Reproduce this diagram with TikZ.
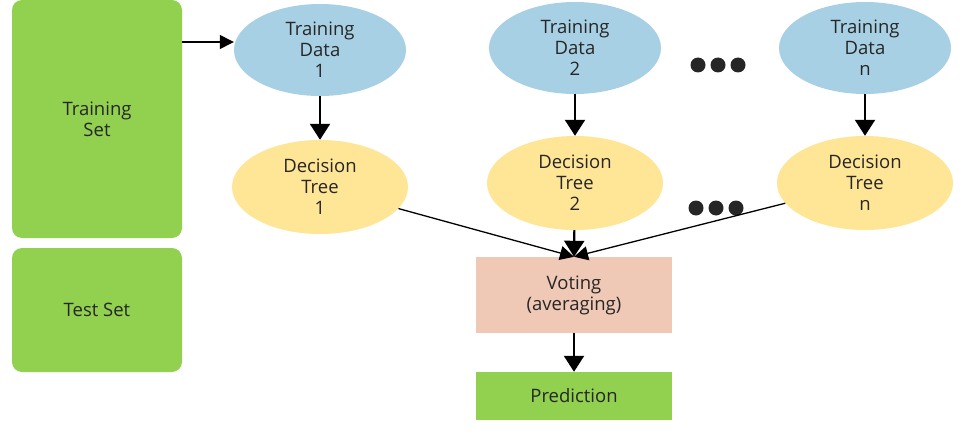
\documentclass[tikz,border=0pt]{standalone}
\usepackage{fontspec}
\setmainfont{Open Sans}
\usetikzlibrary{shapes.geometric,arrows.meta}
\begin{document}
\begin{tikzpicture}[x=1pt,y=-1pt,
  every node/.style={font=\fontsize{18.5}{21}\selectfont,align=center,text=black!85},
  gbox/.style={fill={rgb,255:red,146;green,208;blue,80},draw=none},
  td/.style={ellipse,fill={rgb,255:red,168;green,208;blue,228},minimum width=172,minimum height=92,inner sep=0},
  dt/.style={ellipse,fill={rgb,255:red,255;green,229;blue,150},minimum width=176,minimum height=94,inner sep=0},
  arr/.style={-{Triangle[length=16pt,width=20pt]},line width=2.2pt,black},
  thin/.style={-{Triangle[length=14pt,width=14pt]},line width=1.3pt,black}]
\useasboundingbox (0,0) rectangle (977,436);
\node[gbox,rounded corners=10pt,minimum width=170,minimum height=238] (ts) at (97,119) {Training\\Set};
\node[gbox,rounded corners=10pt,minimum width=170,minimum height=124] (te) at (97,310) {Test Set};
\node[td] (t1) at (320,50) {Training\\Data\\1};
\node[td] (t2) at (575,48) {Training\\Data\\2};
\node[td] (tn) at (865,48) {Training\\Data\\n};
\node[dt] (d1) at (320,187) {Decision\\Tree\\1};
\node[dt] (d2) at (575,183) {Decision\\Tree\\2};
\node[dt] (dn) at (865,183) {Decision\\Tree\\n};
\node[fill={rgb,255:red,240;green,200;blue,182},minimum width=196,minimum height=76] (v) at (574,295) {Voting\\(averaging)};
\node[gbox,minimum width=196,minimum height=48] (p) at (574,396) {Prediction};
\node (dots1) at (718,65) {\tikz[x=1pt,y=1pt]{\foreach \i in {0,20,40}\fill (\i,0) circle (7.5);}};
\node (dots2) at (716,208) {\tikz[x=1pt,y=1pt]{\foreach \i in {0,20,40}\fill (\i,0) circle (7.5);}};
\coordinate (a0) at (182,42);
\draw[thin] (a0) -- (t1.west|-a0);
\draw[arr] (t1) -- (d1);
\draw[arr] (t2) -- (d2);
\draw[arr] (tn) -- (dn);
\draw[thin] (d1) -- (v.north);
\draw[arr] (d2) -- (v.north);
\draw[thin] (dn) -- (v.north);
\draw[arr] (v) -- (p);
\end{tikzpicture}
\end{document}
